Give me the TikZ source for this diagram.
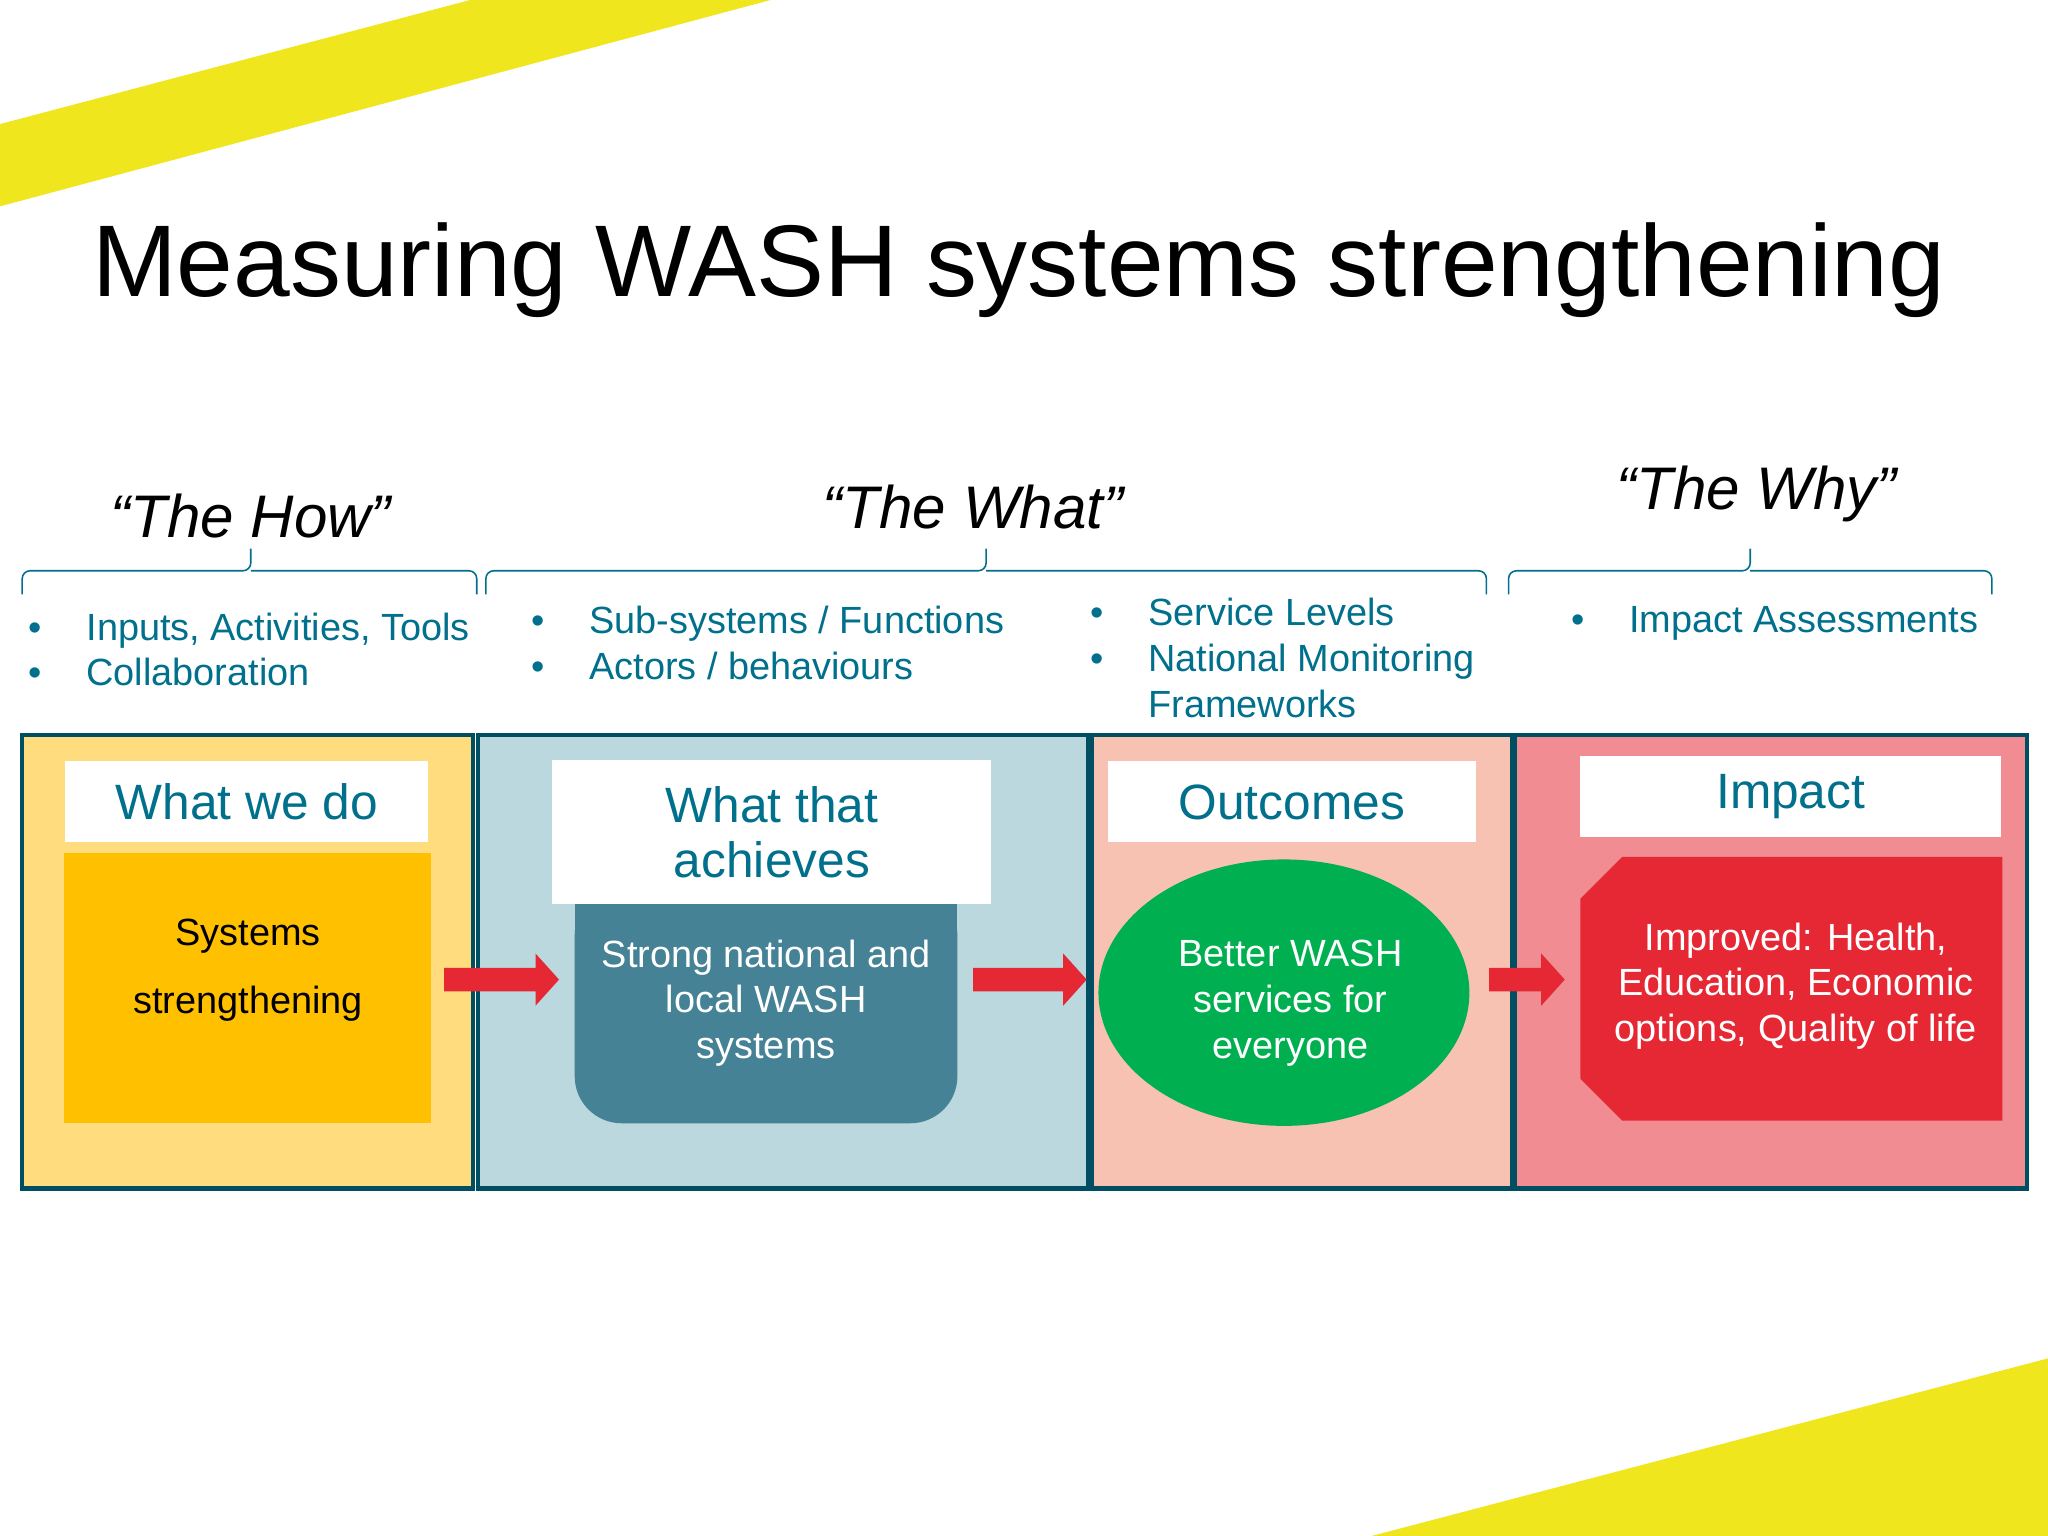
\documentclass[tikz,border=0pt]{standalone}
\usepackage{fontspec}
\setmainfont{Liberation Sans}
\usetikzlibrary{shapes.geometric}
\definecolor{band}{RGB}{240,230,30}
\definecolor{teal}{RGB}{0,112,140}
\definecolor{frame}{RGB}{0,78,98}
\definecolor{howbg}{RGB}{255,220,125}
\definecolor{whatbg}{RGB}{186,216,222}
\definecolor{outbg}{RGB}{248,194,178}
\definecolor{impbg}{RGB}{240,140,146}
\definecolor{orng}{RGB}{255,192,0}
\definecolor{bluebox}{RGB}{70,130,150}
\definecolor{grn}{RGB}{0,176,80}
\definecolor{redbox}{RGB}{230,40,52}
\tikzset{
  panel/.style={draw=frame,line width=1.6pt},
  label box/.style={fill=white,font=\fontsize{19}{21}\selectfont,text=teal,align=center},
  bullets/.style={anchor=north west,text=teal,font=\fontsize{14.5}{17.5}\selectfont,align=left},
  inner text/.style={text=white,align=center,font=\fontsize{14.5}{17.5}\selectfont},
  head/.style={font=\fontsize{23}{26}\selectfont\itshape},
  brace/.style={draw=teal,line width=0.6pt,rounded corners=3pt}
}
\newcommand\blockarrow[3]{% start x, end x, y
  \fill[redbox] (#1,#3-9) -- (#2-18,#3-9) -- (#2-18,#3-20) -- (#2,#3) -- (#2-18,#3+20) -- (#2-18,#3+9) -- (#1,#3+9) -- cycle;}
\begin{document}
\begin{tikzpicture}[x=0.5pt,y=-0.5pt]
  \useasboundingbox (0,0) rectangle (1568,1176);
  % yellow bands
  \fill[band] (0,95) -- (360,0) -- (590,0) -- (0,158) -- cycle;
  \fill[band] (1050,1176) -- (1568,1040) -- (1568,1176) -- cycle;
  \node (title) at (780,207) {\fontsize{39}{43}\selectfont Measuring WASH systems strengthening};
  % headers and braces
  \node[head] (how) at (192,395) {“The How”};
  \node[head] (what) at (745,388) {“The What”};
  \node[head] (why) at (1345,378) {“The Why”};
  \draw[brace] (17,455) -- (17,437) -- (192,437) -- (192,420) (192,437) -- (365,437) -- (365,455);
  \draw[brace] (372,455) -- (372,437) -- (755,437) -- (755,420) (755,437) -- (1138,437) -- (1138,455);
  \draw[brace] (1155,455) -- (1155,437) -- (1340,437) -- (1340,420) (1340,437) -- (1525,437) -- (1525,455);
  \node[bullets] (b1) at (15,462) {\textbullet\hspace{17pt}Inputs, Activities, Tools\\\textbullet\hspace{17pt}Collaboration};
  \node[bullets] (b2) at (400,457) {\textbullet\hspace{17pt}Sub-systems / Functions\\\textbullet\hspace{17pt}Actors / behaviours};
  \node[bullets] (b3) at (828,451) {\textbullet\hspace{17pt}Service Levels\\\textbullet\hspace{17pt}National Monitoring\\\phantom{\textbullet}\hspace{17pt}Frameworks};
  \node[bullets] (b4) at (1196,457) {\textbullet\hspace{17pt}Impact Assessments};
  % panels
  \draw[panel,fill=howbg] (17,563) rectangle (362,910);
  \draw[panel,fill=whatbg] (366,563) rectangle (833,910);
  \draw[panel,fill=outbg] (836,563) rectangle (1158,910);
  \draw[panel,fill=impbg] (1160,563) rectangle (1552,910);
  % inner shapes
  \fill[bluebox,rounded corners=18pt] (440,680) rectangle (733,860);
  \fill[bluebox] (440,692) rectangle (733,740);
  % label boxes
  \node[label box,minimum width=139pt,minimum height=31pt] (l1) at (189,614) {What we do};
  \node[label box,minimum width=168pt,minimum height=55pt] (l2) at (591,637) {What that\\achieves};
  \node[label box,minimum width=141pt,minimum height=31pt] (l3) at (989,614) {Outcomes};
  \node[label box,minimum width=161pt,minimum height=31pt] (l4) at (1371,610) {Impact};
  \node[fill=orng,minimum width=140.5pt,minimum height=103.5pt] (sysbox) at (189.5,756.5) {};
  \node[align=center,font=\fontsize{14.5}{26}\selectfont] (sys) at (190,743) {Systems\\strengthening};
  \node[inner text] (strong) at (586.5,768) {Strong national and\\local WASH\\systems};
  \node[ellipse,fill=grn,minimum width=142pt,minimum height=102pt] (better) at (983,760) {};
  \node[inner text] (bettertext) at (988,768) {Better WASH\\services for\\everyone};
  \fill[redbox] (1242,656) -- (1533,656) -- (1533,858) -- (1242,858) -- (1210,826) -- (1210,688) -- cycle;
  \node[inner text] (improved) at (1375,755) {Improved: Health,\\Education, Economic\\options, Quality of life};
  % arrows
  \blockarrow{340}{428}{750}
  \blockarrow{745}{832}{750}
  \blockarrow{1140}{1198}{750}
\end{tikzpicture}
\end{document}
